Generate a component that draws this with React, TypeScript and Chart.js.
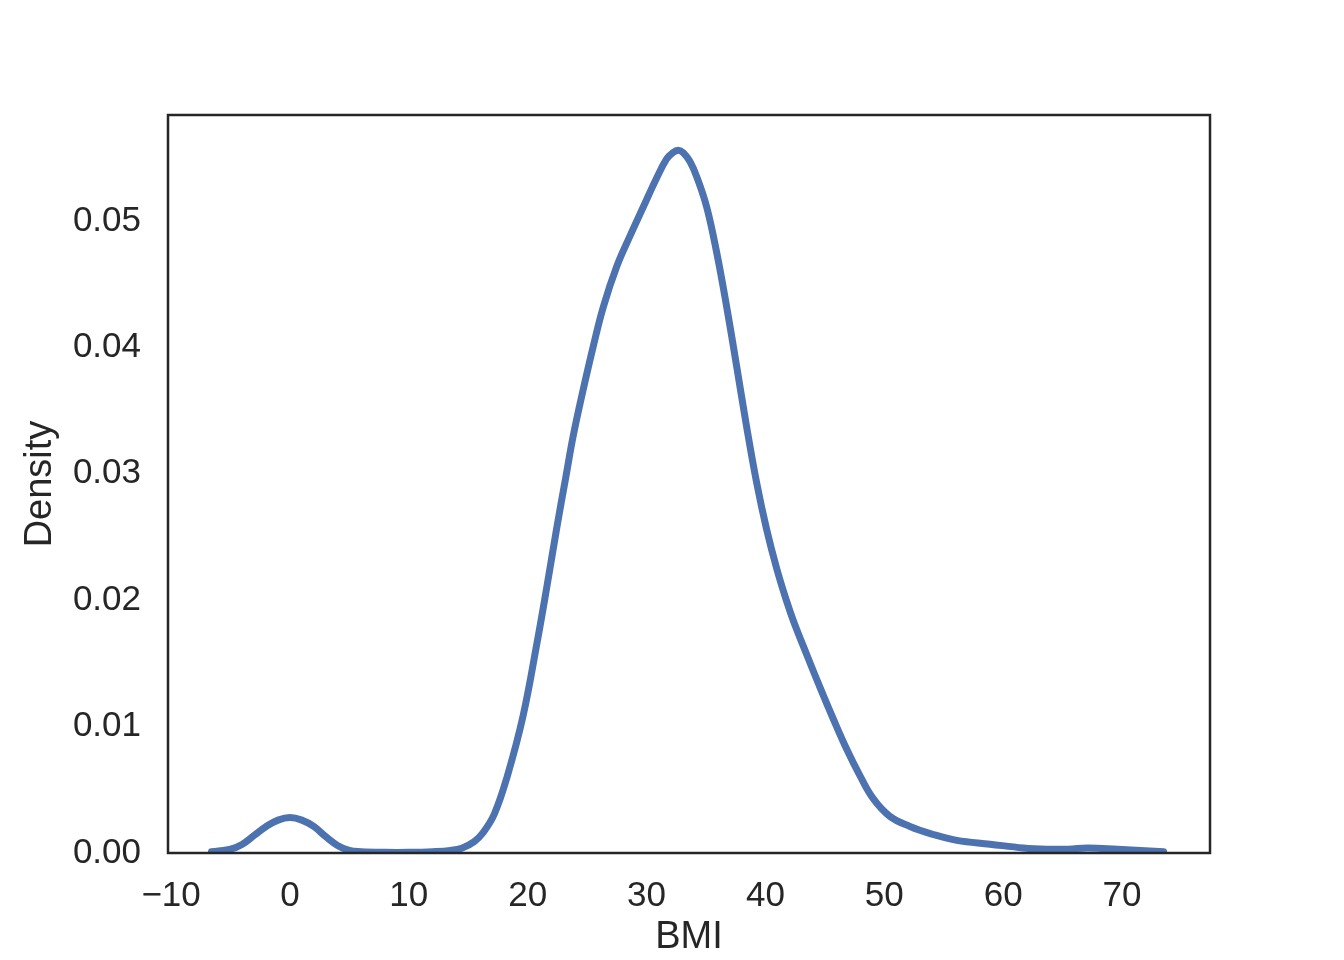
import React, { useEffect, useRef } from "react";
import { Chart, registerables } from "chart.js";

Chart.register(...registerables);

const bmiValues = [
  -6.6, -5, -4, -3, -2, -1, 0, 1, 2, 3, 4, 5, 6, 8, 10, 12, 13.5, 14.5, 15.5, 16.24, 17.2,
  18.26, 19.6, 20.78, 21.62, 22.46, 23.2, 23.83, 24.68, 25.52, 26.36, 27.49, 28.6, 29.72,
  30.85, 31.69, 32.2, 32.67, 33.09, 33.65, 34.22, 35.06, 35.9, 36.74, 37.58, 38.42, 39.26,
  40.1, 40.95, 41.79, 42.34, 43.47, 44.59, 45.71, 46.84, 47.96, 49.07, 50.47, 52.16, 54,
  56.1, 58.9, 61.7, 63.7, 65.5, 67.1, 69.6, 73.5,
];
const densityValues = [
  0.0001, 0.0003, 0.0007, 0.0014, 0.0021, 0.0026, 0.0028, 0.0026, 0.0021, 0.0013, 0.0006,
  0.0002, 0.0001, 0.00005, 0.00005, 0.0001, 0.0002, 0.0004, 0.0009, 0.0016, 0.0031,
  0.006, 0.0108, 0.0166, 0.0211, 0.0258, 0.0297, 0.033, 0.0367, 0.0401, 0.0432, 0.0464,
  0.0488, 0.0511, 0.0534, 0.0549, 0.0554, 0.0556, 0.0554, 0.0547, 0.0535, 0.0511, 0.0475,
  0.0432, 0.0385, 0.0337, 0.0293, 0.0256, 0.0225, 0.0199, 0.0184, 0.0157, 0.0131, 0.0106,
  0.0082, 0.0061, 0.0043, 0.0029, 0.0021, 0.0015, 0.001, 0.0007, 0.0004, 0.0003, 0.0003,
  0.0004, 0.0003, 0.0001,
];
const xTicks = [-10, 0, 10, 20, 30, 40, 50, 60, 70];
const yTicks = [0, 0.01, 0.02, 0.03, 0.04, 0.05];
const xRange = [-10.26, 77.4];
const yRange = [0, 0.05838];

const TEXT = "#262626";
const FONT = "'Liberation Sans', Arial, sans-serif";

const framePlugin = {
  id: "frame",
  afterDatasetsDraw(chart: any) {
    const { ctx, chartArea } = chart;
    ctx.save();
    ctx.strokeStyle = TEXT;
    ctx.lineWidth = 2.5;
    ctx.strokeRect(chartArea.left, chartArea.top, chartArea.right - chartArea.left, chartArea.bottom - chartArea.top);
    ctx.restore();
  },
};

export default function App() {
  const ref = useRef<HTMLCanvasElement>(null);
  useEffect(() => {
    if (!ref.current) return;
    const data = bmiValues.map((x, i) => ({ x, y: densityValues[i] }));
    const chart = new Chart(ref.current, {
      type: "line",
      data: {
        datasets: [
          {
            data,
            borderColor: "#4c72b0",
            borderWidth: 7,
            pointRadius: 0,
            fill: false,
            tension: 0.4,
            borderCapStyle: "round",
            borderJoinStyle: "round",
          },
        ],
      },
      options: {
        animation: false,
        responsive: false,
        maintainAspectRatio: false,
        layout: { padding: { top: 115, right: 134, left: 0, bottom: 0 } },
        plugins: { legend: { display: false }, tooltip: { enabled: false } },
        scales: {
          x: {
            type: "linear",
            min: xRange[0],
            max: xRange[1],
            grid: { display: false, drawTicks: false },
            border: { display: false },
            afterBuildTicks: (s: any) => {
              s.ticks = xTicks.map((v) => ({ value: v }));
            },
            afterFit: (s: any) => {
              s.height = 107;
            },
            ticks: {
              padding: 22,
              color: TEXT,
              font: { family: FONT, size: 35 },
              maxRotation: 0,
              autoSkip: false,
              callback: (v: any) => (v < 0 ? "\u2212" + Math.abs(v) : String(v)),
            },
            title: {
              display: true,
              text: "BMI",
              color: TEXT,
              font: { family: FONT, size: 38 },
              padding: { top: 0, bottom: 0 },
            },
          },
          y: {
            type: "linear",
            min: yRange[0],
            max: yRange[1],
            grid: { display: false, drawTicks: false },
            border: { display: false },
            afterBuildTicks: (s: any) => {
              s.ticks = yTicks.map((v) => ({ value: v }));
            },
            afterFit: (s: any) => {
              s.width = 168;
            },
            ticks: {
              padding: 27,
              color: TEXT,
              font: { family: FONT, size: 35 },
              autoSkip: false,
              callback: (v: any) => Number(v).toFixed(2),
            },
            title: {
              display: true,
              text: "Density",
              color: TEXT,
              font: { family: FONT, size: 38 },
              padding: { top: 18, bottom: 0 },
            },
          },
        },
      },
      plugins: [framePlugin],
    });
    return () => chart.destroy();
  }, []);
  return (
    <div style={{ position: "absolute", left: 0, top: 0, width: 1344, height: 960, background: "#fff" }}>
      <canvas ref={ref} width={1344} height={960} style={{ width: 1344, height: 960 }} />
    </div>
  );
}
